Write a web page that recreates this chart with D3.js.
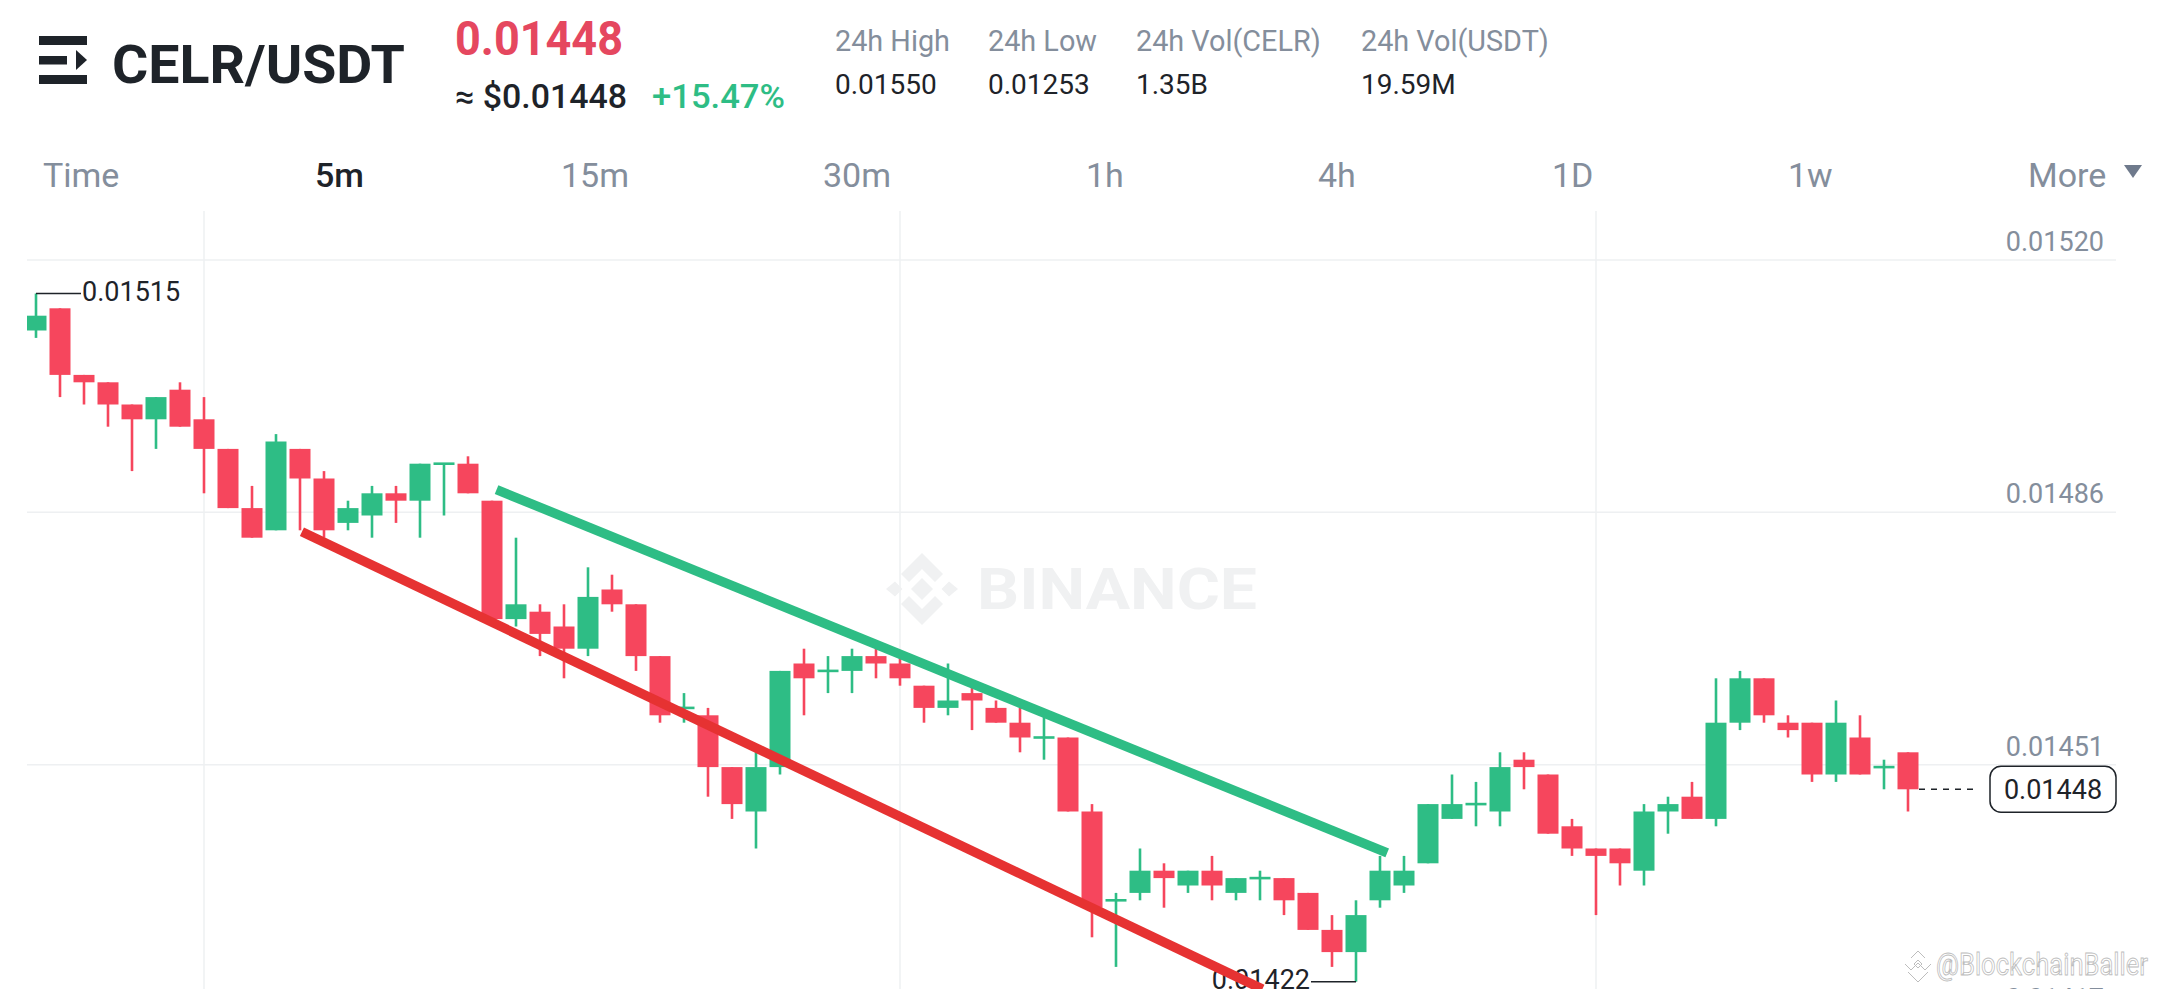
<!DOCTYPE html>
<html>
<head>
<meta charset="utf-8">
<script src="https://cdn.jsdelivr.net/npm/d3@7/dist/d3.min.js"></script>
<style>
html, body { margin: 0; padding: 0; background: #fff; overflow: hidden; }
svg { display: block; }
text { font-family: Roboto, sans-serif; }
</style>
</head>
<body>
<svg id="chart" width="2160" height="989"></svg>
<script>
var opens = [
    0.01510,0.01513,0.01504,0.01503,0.01500,0.01498,0.01502,0.01498,0.01494,0.01486,
    0.01483,0.01494,0.01490,0.01484,0.01485,0.01488,0.01487,0.01492,0.01492,0.01487,
    0.01471,0.01472,0.01470,0.01467,0.01475,0.01473,0.01466,0.01459,0.01458,0.01451,
    0.01445,0.01451,0.01465,0.01464,0.01464,0.01466,0.01465,0.01462,0.01459,0.01461,
    0.01459,0.01457,0.01455,0.01455,0.01445,0.01433,0.01434,0.01437,0.01435,0.01437,
    0.01434,0.01436,0.01436,0.01434,0.01429,0.01426,0.01433,0.01435,0.01438,0.01444,
    0.01446,0.01445,0.01452,0.01450,0.01443,0.01440,0.01440,0.01437,0.01445,0.01447,
    0.01444,0.01457,0.01463,0.01457,0.01457,0.01450,0.01455,0.01451,0.01453
];
var closes = [
    0.01512,0.01504,0.01503,0.01500,0.01498,0.01501,0.01497,0.01494,0.01486,0.01482,
    0.01495,0.01490,0.01483,0.01486,0.01488,0.01487,0.01492,0.01492,0.01488,0.01471,
    0.01473,0.01469,0.01467,0.01474,0.01473,0.01466,0.01458,0.01459,0.01451,0.01446,
    0.01451,0.01464,0.01463,0.01464,0.01466,0.01465,0.01463,0.01459,0.01460,0.01460,
    0.01457,0.01455,0.01455,0.01445,0.01432,0.01433,0.01437,0.01436,0.01437,0.01435,
    0.01436,0.01436,0.01433,0.01429,0.01426,0.01431,0.01437,0.01437,0.01446,0.01446,
    0.01446,0.01451,0.01451,0.01442,0.01440,0.01439,0.01438,0.01445,0.01446,0.01444,
    0.01457,0.01463,0.01458,0.01456,0.01450,0.01457,0.01450,0.01451,0.01448
];
var highs = [
    0.01515,0.01513,0.01504,0.01503,0.01500,0.01501,0.01503,0.01501,0.01494,0.01489,
    0.01496,0.01494,0.01491,0.01487,0.01489,0.01489,0.01492,0.01492,0.01493,0.01487,
    0.01482,0.01473,0.01473,0.01478,0.01477,0.01473,0.01466,0.01461,0.01459,0.01451,
    0.01453,0.01464,0.01467,0.01466,0.01467,0.01467,0.01466,0.01462,0.01465,0.01462,
    0.01460,0.01459,0.01458,0.01455,0.01446,0.01434,0.01440,0.01438,0.01437,0.01439,
    0.01436,0.01437,0.01436,0.01434,0.01431,0.01433,0.01439,0.01439,0.01446,0.01450,
    0.01449,0.01453,0.01453,0.01450,0.01444,0.01440,0.01440,0.01446,0.01447,0.01449,
    0.01463,0.01464,0.01463,0.01458,0.01457,0.01460,0.01458,0.01452,0.01453
];
var lows = [
    0.01509,0.01501,0.01500,0.01497,0.01491,0.01494,0.01497,0.01488,0.01486,0.01482,
    0.01483,0.01483,0.01482,0.01483,0.01482,0.01484,0.01482,0.01485,0.01488,0.01471,
    0.01470,0.01466,0.01463,0.01466,0.01472,0.01464,0.01457,0.01457,0.01447,0.01444,
    0.01440,0.01450,0.01458,0.01461,0.01461,0.01463,0.01462,0.01457,0.01458,0.01456,
    0.01457,0.01453,0.01452,0.01445,0.01428,0.01424,0.01433,0.01432,0.01434,0.01433,
    0.01433,0.01433,0.01431,0.01429,0.01424,0.01422,0.01432,0.01434,0.01438,0.01444,
    0.01443,0.01443,0.01448,0.01442,0.01439,0.01431,0.01435,0.01435,0.01442,0.01444,
    0.01443,0.01456,0.01457,0.01455,0.01449,0.01449,0.01450,0.01448,0.01445
];

var priceTicks = [0.015196, 0.014855, 0.014514, 0.014173];
var timeTicks = [7, 36, 65];

// the two hand drawn trend lines [candle index, price]
var greenTrend = [[19.19, 0.014885], [56.3, 0.014394]];
var redTrend = [[11.08, 0.014828], [51.1, 0.01421]];

var tabLabels = ['Time', '5m', '15m', '30m', '1h', '4h', '1D', '1w', 'More'];
var tabX = [43, 315, 561, 823, 1086, 1318, 1552, 1788, 2028];
var statLabels = ['24h High', '24h Low', '24h Vol(CELR)', '24h Vol(USDT)'];
var statValues = ['0.01550', '0.01253', '1.35B', '19.59M'];
var statX = [835, 988, 1136, 1361];

var UP = '#2EBD85', DOWN = '#F6465D', INK = '#1E2329', GREY = '#848E9C', GRID = '#EEF0F2';

var svg = d3.select('#chart');

var x = d3.scaleLinear().domain([0, 78]).range([36, 1908]);
var y = d3.scaleLinear().domain([0.01515, 0.01422]).range([293.5, 981.7]);

var candles = d3.range(opens.length).map(function(i){
    return {i: i, open: opens[i], close: closes[i], high: highs[i], low: lows[i]};
});
function colour(d){ return d.close >= d.open ? UP : DOWN; }

svg.append('defs').append('clipPath').attr('id', 'plot')
    .append('rect').attr('x', 27).attr('y', 210).attr('width', 2133).attr('height', 779);

// header
var icon = svg.append('g').attr('fill', INK);
icon.append('rect').attr('x', 39).attr('y', 36).attr('width', 48).attr('height', 9);
icon.append('rect').attr('x', 39).attr('y', 56).attr('width', 28).attr('height', 8.5);
icon.append('path').attr('d', 'M76,50L87,60L76,70Z');
icon.append('rect').attr('x', 39).attr('y', 75).attr('width', 48).attr('height', 9);

svg.append('text').attr('x', 112).attr('y', 83).attr('font-size', 54).attr('font-weight', 700)
    .attr('fill', INK).attr('textLength', 293).attr('lengthAdjust', 'spacingAndGlyphs').text('CELR/USDT');
svg.append('text').attr('x', 455).attr('y', 55).attr('font-size', 48).attr('font-weight', 700)
    .attr('fill', '#E5475F').attr('textLength', 168).attr('lengthAdjust', 'spacingAndGlyphs').text('0.01448');
svg.append('text').attr('x', 455).attr('y', 108).attr('font-size', 33).attr('font-weight', 500)
    .attr('fill', INK).attr('textLength', 172).attr('lengthAdjust', 'spacingAndGlyphs').text('≈ $0.01448');
svg.append('text').attr('x', 652).attr('y', 108).attr('font-size', 33).attr('font-weight', 500)
    .attr('fill', UP).attr('textLength', 133).attr('lengthAdjust', 'spacingAndGlyphs').text('+15.47%');

svg.selectAll('.stat-label').data(statLabels).enter().append('text')
    .attr('class', 'stat-label')
    .attr('x', function(d, i){ return statX[i]; })
    .attr('y', 51).attr('font-size', 28.8).attr('fill', GREY)
    .text(function(d){ return d; });
svg.selectAll('.stat-value').data(statValues).enter().append('text')
    .attr('class', 'stat-value')
    .attr('x', function(d, i){ return statX[i]; })
    .attr('y', 94).attr('font-size', 28).attr('fill', INK)
    .text(function(d){ return d; });

svg.selectAll('.tab').data(tabLabels).enter().append('text')
    .attr('class', 'tab')
    .attr('x', function(d, i){ return tabX[i]; })
    .attr('y', 187).attr('font-size', 34)
    .attr('font-weight', function(d){ return d == '5m' ? 500 : 400; })
    .attr('fill', function(d){ return d == '5m' ? INK : GREY; })
    .text(function(d){ return d; });
svg.append('path').attr('d', 'M2124,165L2142,165L2133,178Z').attr('fill', '#6F7A8C');

// grid and price axis
svg.selectAll('.vgrid').data(timeTicks).enter().append('line')
    .attr('class', 'vgrid')
    .attr('x1', function(d){ return x(d); }).attr('x2', function(d){ return x(d); })
    .attr('y1', 211).attr('y2', 989)
    .attr('stroke', GRID).attr('stroke-width', 1.5);

var axis = svg.append('g')
    .attr('transform', 'translate(2116,0)')
    .call(d3.axisLeft(y).tickValues(priceTicks).tickFormat(d3.format('.5f')).tickSize(2089));
axis.select('.domain').remove();
axis.selectAll('.tick line').attr('stroke', GRID).attr('stroke-width', 1.5);
axis.selectAll('.tick text')
    .attr('x', -12).attr('y', -9).attr('dy', 0)
    .attr('text-anchor', 'end')
    .attr('font-family', 'Roboto, sans-serif')
    .attr('font-size', 27).attr('fill', GREY);

// BINANCE watermark
var mark = svg.append('g').attr('transform', 'translate(922,589)').attr('fill', '#F0F1F2');
mark.append('path').attr('d', 'M0,-36L21,-15L13,-7L0,-20L-13,-7L-21,-15Z');
mark.append('path').attr('d', 'M0,36L21,15L13,7L0,20L-13,7L-21,15Z');
mark.append('path').attr('d', 'M0,-11L11,0L0,11L-11,0Z');
mark.append('path').attr('d', 'M-27,-7.5L-19.5,0L-27,7.5L-36,0Z');
mark.append('path').attr('d', 'M27,-7.5L36,0L27,7.5L19.5,0Z');
svg.append('text').attr('x', 977).attr('y', 609).attr('font-size', 57).attr('font-weight', 700)
    .attr('fill', '#F0F1F2').attr('textLength', 280).attr('lengthAdjust', 'spacingAndGlyphs').text('BINANCE');

// candles
var plot = svg.append('g').attr('clip-path', 'url(#plot)');
var join = plot.selectAll('.candle').data(candles).enter().append('g').attr('class', 'candle');

join.append('line')
    .attr('x1', function(d){ return x(d.i); }).attr('x2', function(d){ return x(d.i); })
    .attr('y1', function(d){ return y(d.high); }).attr('y2', function(d){ return y(d.low); })
    .attr('stroke', colour).attr('stroke-width', 2.6);

join.append('rect')
    .attr('x', function(d){ return x(d.i) - 10.5; })
    .attr('width', 21)
    .attr('y', function(d){ return d.open == d.close ? y(d.open) - 1.3 : y(Math.max(d.open, d.close)); })
    .attr('height', function(d){
        return d.open == d.close ? 2.6 : Math.abs(y(d.open) - y(d.close));
    })
    .attr('fill', colour);

// high and low markers
var lowIndex = d3.least(candles, function(d){ return d.low; });
var highIndex = d3.greatest(candles, function(d){ return d.high; });
svg.append('path').attr('fill', 'none').attr('stroke', INK).attr('stroke-width', 1.5)
    .attr('d', 'M' + x(highIndex.i) + ',' + y(highIndex.high) + 'H81');
svg.append('text').attr('x', 82).attr('y', y(highIndex.high) + 7.5).attr('font-size', 27)
    .attr('fill', INK).text(d3.format('.5f')(highIndex.high));
svg.append('path').attr('fill', 'none').attr('stroke', INK).attr('stroke-width', 1.5)
    .attr('d', 'M' + x(lowIndex.i) + ',' + y(lowIndex.low) + 'H1311');
svg.append('text').attr('x', 1310).attr('y', y(lowIndex.low) + 7.5).attr('font-size', 27)
    .attr('text-anchor', 'end').attr('fill', INK).text(d3.format('.5f')(lowIndex.low));

// trend lines sit on top of everything in the plot
var line = d3.line()
    .x(function(d){ return x(d[0]); })
    .y(function(d){ return y(d[1]); });
svg.append('path').datum(greenTrend).attr('d', line)
    .attr('fill', 'none').attr('stroke', UP).attr('stroke-width', 9.5);
svg.append('path').datum(redTrend).attr('d', line)
    .attr('fill', 'none').attr('stroke', '#E63232').attr('stroke-width', 9.5);

// last price
var last = candles[candles.length - 1];
svg.append('line').attr('x1', x(last.i) + 11).attr('x2', 1973)
    .attr('y1', y(last.close)).attr('y2', y(last.close))
    .attr('stroke', INK).attr('stroke-width', 1.5).attr('stroke-dasharray', '6 6');
svg.append('rect').attr('x', 1990).attr('y', y(last.close) - 23).attr('width', 126).attr('height', 46)
    .attr('rx', 11).attr('fill', '#fff').attr('stroke', INK).attr('stroke-width', 1.5);
svg.append('text').attr('x', 2053).attr('y', y(last.close) + 10).attr('font-size', 27)
    .attr('text-anchor', 'middle').attr('fill', INK).text(d3.format('.5f')(last.close));

// author watermark
var tag = svg.append('g').attr('fill', 'none').attr('stroke', '#BDBDBD').attr('stroke-width', 1);
tag.append('path').attr('d', 'M1905,964L1911,970L1918,963L1925,970L1931,964M1911,958L1918,951L1925,958M1908,972L1918,982L1928,972M1914,964L1918,960L1922,964L1918,968Z');
svg.append('text').attr('x', 1936).attr('y', 975).attr('font-size', 31)
    .attr('fill', '#fff').attr('stroke', '#BDBDBD').attr('stroke-width', 0.9)
    .attr('textLength', 212).attr('lengthAdjust', 'spacingAndGlyphs').text('@BlockchainBaller');
</script>
</body>
</html>
